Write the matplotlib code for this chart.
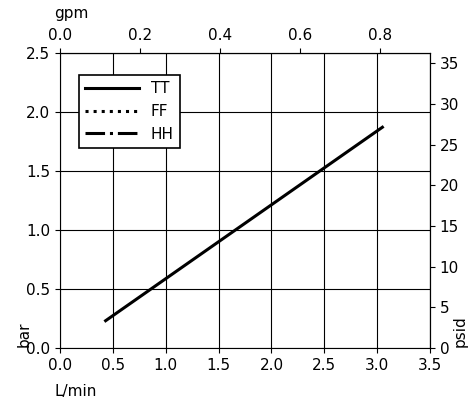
import matplotlib
matplotlib.use("Agg")
import matplotlib.pyplot as plt
from matplotlib.ticker import MultipleLocator

# data
flow_lpm = [0.43, 3.05]
dp_bar = [0.23, 1.87]
series = ["TT", "FF", "HH"]
styles = ["-", ":", "-."]

LPM_PER_GPM = 3.785
PSI_PER_BAR = 14.504

fig = plt.figure(figsize=(4.74, 4.04), dpi=100)
ax = fig.add_axes([0.127, 0.139, 0.78, 0.73])

ax.plot(flow_lpm, dp_bar, color="black", lw=2.2)
for name, ls in zip(series, styles):
    ax.plot([], [], color="black", lw=2.2, ls=ls, label=name)

ax.set_xlim(0, 3.5)
ax.set_ylim(0, 2.5)
ax.xaxis.set_major_locator(MultipleLocator(0.5))
ax.yaxis.set_major_locator(MultipleLocator(0.5))
ax.xaxis.set_major_formatter("{x:.1f}")
ax.yaxis.set_major_formatter("{x:.1f}")
ax.grid(True, color="black", lw=0.8)
ax.tick_params(labelsize=11, direction="out")

top = ax.secondary_xaxis("top", functions=(lambda x: x / LPM_PER_GPM, lambda g: g * LPM_PER_GPM))
top.set_xticks([0.0, 0.2, 0.4, 0.6, 0.8])
top.xaxis.set_major_formatter("{x:.1f}")
top.tick_params(labelsize=11)

right = ax.secondary_yaxis("right", functions=(lambda b: b * PSI_PER_BAR, lambda p: p / PSI_PER_BAR))
right.set_yticks(range(0, 36, 5))
right.tick_params(labelsize=11)

leg = ax.legend(loc="upper left", bbox_to_anchor=(0.03, 0.95), fontsize=11,
                handlelength=3.5, fancybox=False, edgecolor="black", framealpha=1)
leg.get_frame().set_linewidth(1.2)

fig.text(0.035, 0.14, "bar", rotation=90, fontsize=11, va="bottom")
fig.text(0.115, 0.02, "L/min", fontsize=11)
fig.text(0.115, 0.955, "gpm", fontsize=11)
fig.text(0.955, 0.14, "psid", rotation=90, fontsize=11, va="bottom")

fig.savefig("out.png", dpi=100)
